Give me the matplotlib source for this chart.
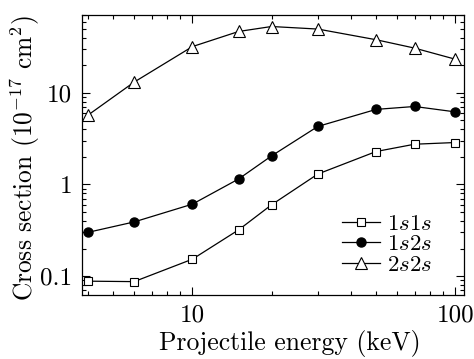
import matplotlib
matplotlib.use('Agg')
import matplotlib.pyplot as plt
from matplotlib.ticker import FixedLocator, FixedFormatter, LogLocator, NullFormatter

plt.rcParams['font.family'] = ['cmr10', 'DejaVu Serif']
plt.rcParams['mathtext.fontset'] = 'cm'
plt.rcParams['axes.formatter.use_mathtext'] = True

energy = [4, 6, 10, 15, 20, 30, 50, 70, 100]
s1s1s = [0.088, 0.087, 0.153, 0.32, 0.60, 1.30, 2.29, 2.75, 2.87]
s1s2s = [0.30, 0.39, 0.61, 1.15, 2.05, 4.3, 6.6, 7.1, 6.2]
s2s2s = [5.7, 13.1, 32, 46.8, 53, 49.7, 38, 30.8, 23.3]

xticks = [10, 100]
xticklabels = ['10', '100']
yticks = [0.1, 1, 10]
yticklabels = ['0.1', '1', '10']

fig = plt.figure(figsize=(4.74, 3.59), dpi=100)
ax = fig.add_axes([0.173, 0.178, 0.806, 0.779])

ax.plot(energy, s1s1s, '-s', color='black', lw=0.9, ms=5.5, mfc='white', mec='black', mew=0.8, label='$1s1s$')
ax.plot(energy, s1s2s, '-o', color='black', lw=0.9, ms=6.5, mfc='black', mec='black', label='$1s2s$')
ax.plot(energy, s2s2s, '-^', color='black', lw=0.9, ms=8, mfc='white', mec='black', mew=0.8, label='$2s2s$')

ax.set_xscale('log')
ax.set_yscale('log')
ax.set_xlim(3.8, 108)
ax.set_ylim(0.062, 70)

ax.xaxis.set_major_locator(FixedLocator(xticks))
ax.xaxis.set_major_formatter(FixedFormatter(xticklabels))
ax.xaxis.set_minor_locator(LogLocator(base=10, subs=range(2, 10)))
ax.xaxis.set_minor_formatter(NullFormatter())
ax.yaxis.set_major_locator(FixedLocator(yticks))
ax.yaxis.set_major_formatter(FixedFormatter(yticklabels))
ax.yaxis.set_minor_locator(LogLocator(base=10, subs=range(2, 10)))
ax.yaxis.set_minor_formatter(NullFormatter())

ax.tick_params(which='both', direction='in', top=True, right=True, labelsize=18, width=0.8)
ax.tick_params(which='major', length=6)
ax.tick_params(which='minor', length=3)
ax.tick_params(axis='y', which='major', pad=7)
ax.tick_params(axis='x', which='major', pad=7)
for sp in ax.spines.values():
    sp.set_linewidth(0.9)

ax.set_xlabel('Projectile energy (keV)', fontsize=18.5)
ax.set_ylabel('Cross section (10$^{-17}$ cm$^{2}$)', fontsize=18.3)
ax.xaxis.set_label_coords(0.545, -0.125)
ax.yaxis.set_label_coords(-0.105, 0.49)

ax.legend(loc='lower right', bbox_to_anchor=(0.94, 0.04), frameon=False, fontsize=16.5,
          handlelength=1.65, handletextpad=0.3, labelspacing=0.02, borderaxespad=0)

fig.savefig('out.png', dpi=100)
